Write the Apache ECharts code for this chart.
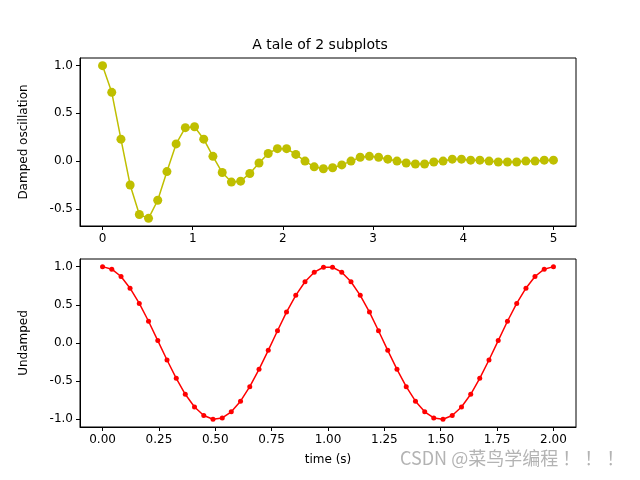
<!DOCTYPE html>
<html>
<head>
<meta charset="utf-8">
<script src="https://cdn.jsdelivr.net/npm/echarts@6/dist/echarts.min.js"></script>
<style>html,body{margin:0;padding:0;background:#fff}#main{width:640px;height:480px}</style>
</head>
<body>
<div id="main"></div>
<script>
var x1 = [0, 0.102, 0.204, 0.306, 0.408, 0.510, 0.612, 0.714, 0.816, 0.918,
  1.020, 1.122, 1.224, 1.327, 1.429, 1.531, 1.633, 1.735, 1.837, 1.939,
  2.041, 2.143, 2.245, 2.347, 2.449, 2.551, 2.653, 2.755, 2.857, 2.959,
  3.061, 3.163, 3.265, 3.367, 3.469, 3.571, 3.673, 3.776, 3.878, 3.980,
  4.082, 4.184, 4.286, 4.388, 4.490, 4.592, 4.694, 4.796, 4.898, 5.0];
var y1 = [1.00, 0.72, 0.23, -0.25, -0.56, -0.60, -0.41, -0.11, 0.18, 0.35,
  0.36, 0.23, 0.05, -0.12, -0.22, -0.21, -0.13, -0.02, 0.08, 0.13,
  0.13, 0.07, 0.00, -0.06, -0.08, -0.07, -0.04, 0.00, 0.04, 0.05,
  0.04, 0.02, 0.00, -0.02, -0.03, -0.03, -0.01, 0.00, 0.02, 0.02,
  0.01, 0.01, 0.00, -0.01, -0.01, -0.01, 0.00, 0.00, 0.01, 0.01];
var x2 = [0, 0.041, 0.082, 0.122, 0.163, 0.204, 0.245, 0.286, 0.327, 0.367,
  0.408, 0.449, 0.490, 0.531, 0.571, 0.612, 0.653, 0.694, 0.735, 0.776,
  0.816, 0.857, 0.898, 0.939, 0.980, 1.020, 1.061, 1.102, 1.143, 1.184,
  1.224, 1.265, 1.306, 1.347, 1.388, 1.429, 1.469, 1.510, 1.551, 1.592,
  1.633, 1.673, 1.714, 1.755, 1.796, 1.837, 1.878, 1.918, 1.959, 2.0];
var y2 = [1.000, 0.967, 0.871, 0.718, 0.518, 0.285, 0.032, -0.223, -0.463, -0.672,
  -0.838, -0.949, -0.998, -0.982, -0.901, -0.762, -0.572, -0.345, -0.096, 0.160,
  0.405, 0.624, 0.802, 0.927, 0.992, 0.992, 0.927, 0.802, 0.624, 0.405,
  0.160, -0.096, -0.345, -0.572, -0.762, -0.901, -0.982, -0.998, -0.949, -0.838,
  -0.672, -0.463, -0.223, 0.032, 0.285, 0.518, 0.718, 0.871, 0.967, 1.000];
var xTicks1 = [0, 1, 2, 3, 4, 5];
var yTicks1 = [-0.5, 0, 0.5, 1.0];
var xTicks2 = [0, 0.25, 0.5, 0.75, 1.0, 1.25, 1.5, 1.75, 2.0];
var yTicks2 = [-1.0, -0.5, 0, 0.5, 1.0];

function pairs(xs, ys) {
  return xs.map(function (x, i) { return [x, ys[i]]; });
}

var font = 'DejaVu Sans';
function axis(idx, min, max, ticks, fmt, name, isY) {
  return {
    type: 'value', gridIndex: idx, min: min, max: max,
    name: name, nameLocation: 'middle', nameGap: isY ? 50 : 27,
    nameTextStyle: { color: '#000', fontSize: 12, fontFamily: font },
    axisLine: { show: true, onZero: false, lineStyle: { color: '#000', width: 1 } },
    axisTick: { show: true, customValues: ticks, length: 4, lineStyle: { color: '#000' } },
    axisLabel: { customValues: ticks, color: '#000', fontSize: 12, fontFamily: font, margin: 7,
      formatter: fmt },
    splitLine: { show: false }
  };
}
function f1(v) { return v.toFixed(1); }
function f2(v) { return v.toFixed(2); }
function f0(v) { return String(v); }

var chart = echarts.init(document.getElementById('main'));
chart.setOption({
  animation: false,
  title: { text: 'A tale of 2 subplots', left: 'center', top: 33,
    textStyle: { fontSize: 14, fontWeight: 'normal', color: '#000', fontFamily: font } },
  grid: [
    { left: 80, right: 64, top: 58, height: 168, show: true, borderColor: '#000', borderWidth: 1 },
    { left: 80, right: 64, top: 259, height: 168, show: true, borderColor: '#000', borderWidth: 1 }
  ],
  xAxis: [
    axis(0, -0.25, 5.25, xTicks1, f0, '', false),
    axis(1, -0.1, 2.1, xTicks2, f2, 'time (s)', false)
  ],
  yAxis: [
    axis(0, -0.68, 1.08, yTicks1, f1, 'Damped oscillation', true),
    axis(1, -1.1, 1.1, yTicks2, f1, 'Undamped', true)
  ],
  series: [
    { type: 'line', xAxisIndex: 0, yAxisIndex: 0, data: pairs(x1, y1),
      symbol: 'circle', symbolSize: 9, lineStyle: { color: '#bfbf00', width: 1.5 },
      itemStyle: { color: '#bfbf00' } },
    { type: 'line', xAxisIndex: 1, yAxisIndex: 1, data: pairs(x2, y2),
      symbol: 'circle', symbolSize: 5, lineStyle: { color: '#ff0000', width: 1.5 },
      itemStyle: { color: '#ff0000' } }
  ],
  graphic: [{
    type: 'text', left: 400, top: 449,
    style: { text: 'CSDN @菜鸟学编程 ！ ！ ！', fill: 'rgba(160,160,160,0.8)', fontSize: 18,
      fontFamily: 'Noto Sans CJK SC' }
  }]
});
</script>
</body>
</html>
